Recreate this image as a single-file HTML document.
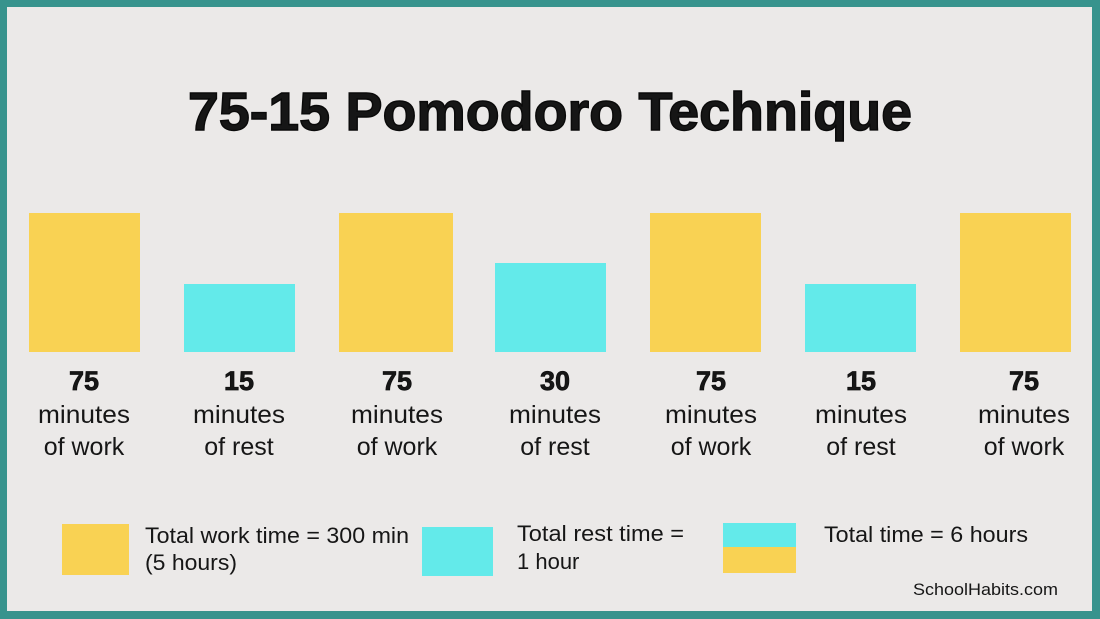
<!DOCTYPE html>
<html>
<head>
<meta charset="utf-8">
<style>
  html, body { margin: 0; padding: 0; background: #ebe9e8; }
  svg { display: block; }
  text { font-family: "Liberation Sans", "DejaVu Sans", sans-serif; fill: #161616; }
</style>
</head>
<body>
<svg width="1100" height="619" viewBox="0 0 1100 619" xmlns="http://www.w3.org/2000/svg">
  <!-- frame -->
  <rect x="0" y="0" width="1100" height="619" fill="#37938d"/>
  <rect x="7" y="7" width="1085" height="604" fill="#ebe9e8"/>

  <!-- title -->
  <text x="550" y="130" text-anchor="middle" font-size="54" font-weight="bold" textLength="724" lengthAdjust="spacingAndGlyphs" fill="#0a0a0a" stroke="#0a0a0a" stroke-width="1.4">75-15 Pomodoro Technique</text>

  <!-- bars -->
  <rect x="29" y="213" width="111" height="139" fill="#f9d253"/>
  <rect x="184" y="284" width="111" height="68" fill="#63eaea"/>
  <rect x="339" y="213" width="114" height="139" fill="#f9d253"/>
  <rect x="495" y="263" width="111" height="89" fill="#63eaea"/>
  <rect x="650" y="213" width="111" height="139" fill="#f9d253"/>
  <rect x="805" y="284" width="111" height="68" fill="#63eaea"/>
  <rect x="960" y="213" width="111" height="139" fill="#f9d253"/>

  <!-- labels -->
  <g text-anchor="middle">
    <g font-size="27" font-weight="bold" fill="#0f0f0f" stroke="#0f0f0f" stroke-width="0.7">
      <text x="84" y="390">75</text>
      <text x="239" y="390">15</text>
      <text x="397" y="390">75</text>
      <text x="555" y="390">30</text>
      <text x="711" y="390">75</text>
      <text x="861" y="390">15</text>
      <text x="1024" y="390">75</text>
    </g>
    <g font-size="25">
      <text x="84" y="423" textLength="92" lengthAdjust="spacingAndGlyphs">minutes</text>
      <text x="239" y="423" textLength="92" lengthAdjust="spacingAndGlyphs">minutes</text>
      <text x="397" y="423" textLength="92" lengthAdjust="spacingAndGlyphs">minutes</text>
      <text x="555" y="423" textLength="92" lengthAdjust="spacingAndGlyphs">minutes</text>
      <text x="711" y="423" textLength="92" lengthAdjust="spacingAndGlyphs">minutes</text>
      <text x="861" y="423" textLength="92" lengthAdjust="spacingAndGlyphs">minutes</text>
      <text x="1024" y="423" textLength="92" lengthAdjust="spacingAndGlyphs">minutes</text>

      <text x="84" y="455">of work</text>
      <text x="239" y="455">of rest</text>
      <text x="397" y="455">of work</text>
      <text x="555" y="455">of rest</text>
      <text x="711" y="455">of work</text>
      <text x="861" y="455">of rest</text>
      <text x="1024" y="455">of work</text>
    </g>
  </g>

  <!-- legend -->
  <rect x="62" y="524" width="67" height="51" fill="#f9d253"/>
  <g font-size="22">
    <text x="145" y="543" textLength="264" lengthAdjust="spacingAndGlyphs">Total work time = 300 min</text>
    <text x="145" y="570" textLength="92" lengthAdjust="spacingAndGlyphs">(5 hours)</text>
  </g>

  <rect x="422" y="527" width="71" height="49" fill="#63eaea"/>
  <g font-size="22">
    <text x="517" y="541" textLength="167" lengthAdjust="spacingAndGlyphs">Total rest time =</text>
    <text x="517" y="569">1 hour</text>
  </g>

  <rect x="723" y="523" width="73" height="24" fill="#63eaea"/>
  <rect x="723" y="547" width="73" height="26" fill="#f9d253"/>
  <text x="824" y="542" font-size="22" textLength="204" lengthAdjust="spacingAndGlyphs">Total time = 6 hours</text>

  <text x="913" y="595" font-size="17" textLength="145" lengthAdjust="spacingAndGlyphs" fill="#222">SchoolHabits.com</text>
</svg>
</body>
</html>
